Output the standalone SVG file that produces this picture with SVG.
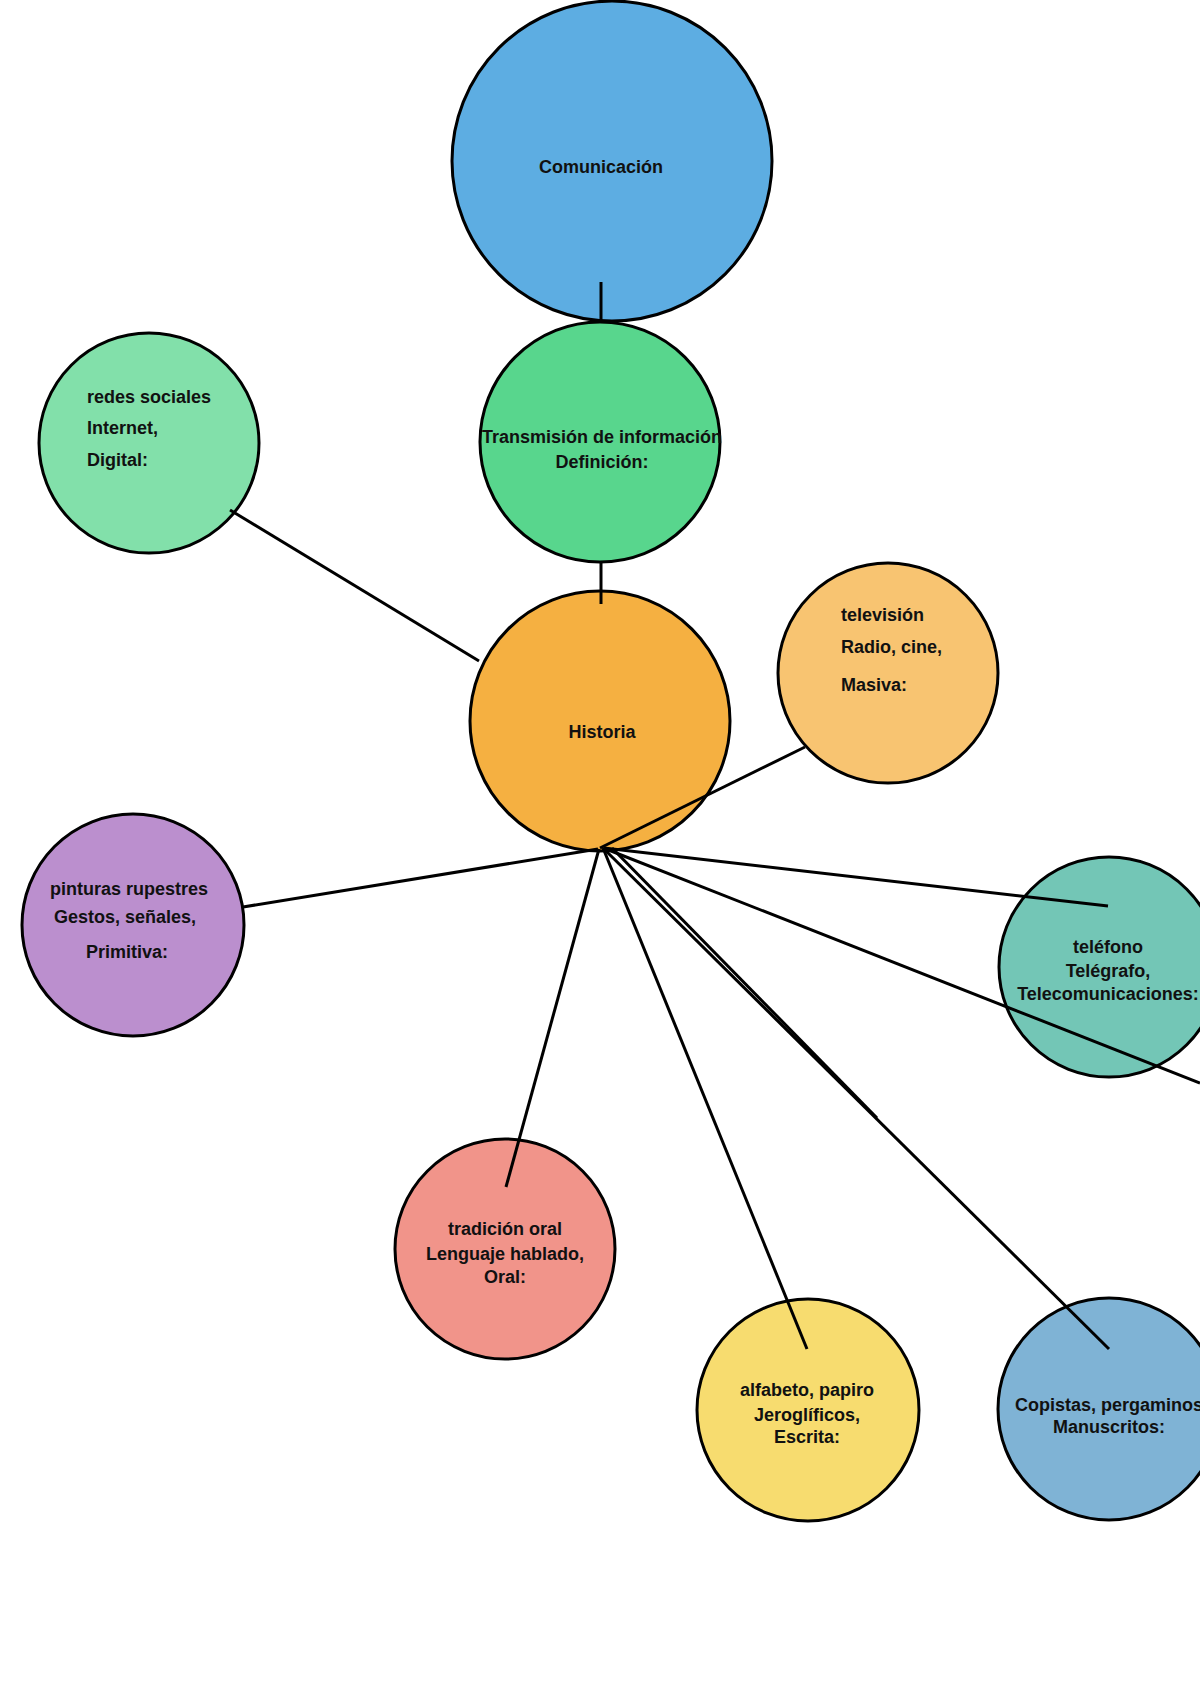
<svg xmlns="http://www.w3.org/2000/svg" width="1200" height="1696" viewBox="0 0 1200 1696">
<style>
.n{stroke:#000;stroke-width:3}
.t{font-family:"Liberation Sans",Arial,sans-serif;font-weight:bold;font-size:18px;fill:#111}
.m{text-anchor:middle}
.c line{stroke:#000;stroke-width:3;stroke-linecap:butt}
</style>
<rect width="1200" height="1696" fill="#fff"/>
<g id="comunicacion"><circle class="n" cx="612" cy="161" r="160" fill="#5DADE2"/><text class="t m" x="601" y="173">Comunicación</text></g>
<g id="definicion"><circle class="n" cx="600" cy="442" r="120" fill="#58D68D"/><text class="t m" x="602" y="443">Transmisión de información</text><text class="t m" x="602" y="468">Definición:</text></g>
<g id="digital"><circle class="n" cx="149" cy="443" r="110" fill="#82E0AA"/><text class="t" x="87" y="403">redes sociales</text><text class="t" x="87" y="434">Internet,</text><text class="t" x="87" y="466">Digital:</text></g>
<g id="historia"><circle class="n" cx="600" cy="721" r="130" fill="#F5B041"/><text class="t m" x="602" y="738">Historia</text></g>
<g id="masiva"><circle class="n" cx="888" cy="673" r="110" fill="#F8C471"/><text class="t" x="841" y="621">televisión</text><text class="t" x="841" y="653">Radio, cine,</text><text class="t" x="841" y="691">Masiva:</text></g>
<g id="primitiva"><circle class="n" cx="133" cy="925" r="111" fill="#BB8FCE"/><text class="t m" x="129" y="895">pinturas rupestres</text><text class="t m" x="125" y="923">Gestos, señales,</text><text class="t m" x="127" y="958">Primitiva:</text></g>
<g id="telecomunicaciones"><circle class="n" cx="1109" cy="967" r="110" fill="#73C6B6"/><text class="t m" x="1108" y="953">teléfono</text><text class="t m" x="1108" y="977">Telégrafo,</text><text class="t m" x="1108" y="1000">Telecomunicaciones:</text></g>
<g id="oral"><circle class="n" cx="505" cy="1249" r="110" fill="#F1948A"/><text class="t m" x="505" y="1235">tradición oral</text><text class="t m" x="505" y="1260">Lenguaje hablado,</text><text class="t m" x="505" y="1283">Oral:</text></g>
<g id="escrita"><circle class="n" cx="808" cy="1410" r="111" fill="#F7DC6F"/><text class="t m" x="807" y="1396">alfabeto, papiro</text><text class="t m" x="807" y="1421">Jeroglíficos,</text><text class="t m" x="807" y="1443">Escrita:</text></g>
<g id="manuscritos"><circle class="n" cx="1109" cy="1409" r="111" fill="#7FB3D5"/><text class="t m" x="1109" y="1411">Copistas, pergaminos</text><text class="t m" x="1109" y="1433">Manuscritos:</text></g>
<g class="c" id="connectors">
<line x1="601" y1="282" x2="601" y2="321"/>
<line x1="601" y1="562" x2="601" y2="604"/>
<line x1="230" y1="510" x2="479" y2="661"/>
<line x1="805" y1="747" x2="600" y2="848"/>
<line x1="243" y1="907" x2="598" y2="849"/>
<line x1="604" y1="848" x2="1108" y2="906"/>
<line x1="606" y1="849" x2="1200" y2="1083"/>
<line x1="599" y1="849" x2="506" y2="1187"/>
<line x1="603" y1="848" x2="807" y2="1349"/>
<line x1="603" y1="848" x2="1109" y2="1349"/>
<line x1="612" y1="848" x2="877" y2="1118"/>
</g>
</svg>
